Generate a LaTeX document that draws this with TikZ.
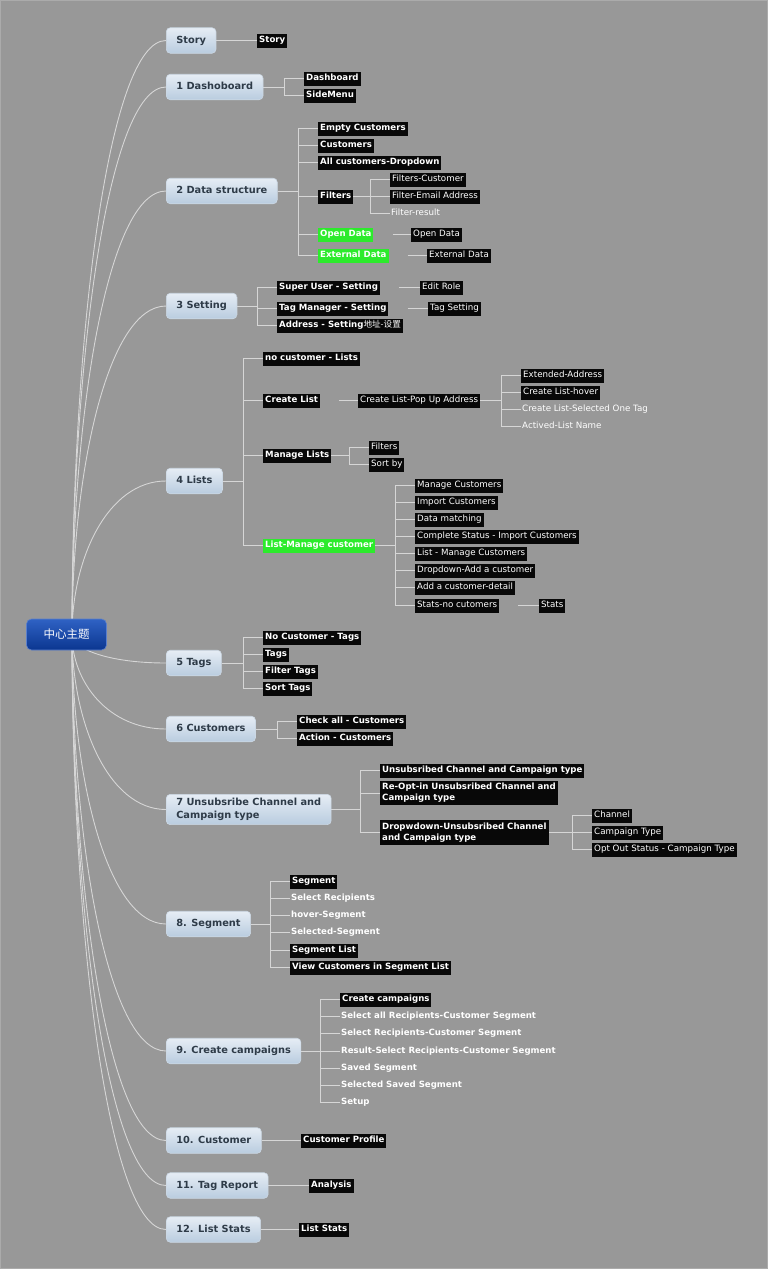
\documentclass[tikz,border=0pt]{standalone}
\usepackage{fontspec}
\setmainfont{DejaVu Sans}
\newfontfamily\cjk{Noto Sans CJK SC}
\usetikzlibrary{calc}
\pgfdeclarelayer{background}
\pgfsetlayers{background,main}
\definecolor{bgc}{HTML}{989898}
\definecolor{bordc}{HTML}{ABABAB}
\definecolor{lcol}{HTML}{D6D6D6}
\definecolor{mtop}{HTML}{E6EDF5}
\definecolor{mbot}{HTML}{B9CCDF}
\definecolor{mborder}{HTML}{CCD8E4}
\definecolor{mtext}{HTML}{2E3B48}
\definecolor{rtop}{HTML}{2F62C4}
\definecolor{rbot}{HTML}{0B3690}
\definecolor{rborder}{HTML}{5A7FCC}
\definecolor{sgreen}{HTML}{2CEB2C}
\definecolor{boxc}{HTML}{080808}
\newcommand\busto[2]{\draw[conn] (#1.east) -| ([xshift=-20pt]#2.west) -- (#2.west);}
\newcommand\gapto[2]{\draw[conn] ([xshift=19pt]#1.east) -- (#2.west);}
\newcommand\directto[2]{\draw[conn] (#1.east) -- (#1.east -| #2.west);}
\begin{document}
\begin{tikzpicture}[x=1pt,y=-1pt,
  mainbase/.style={rounded corners=4pt, top color=mtop, bottom color=mbot, draw=mborder, line width=0.6pt,
    font=\fontsize{9.8}{12.8}\selectfont\bfseries, text=mtext, inner xsep=10pt, inner ysep=4pt, minimum height=25.5pt, anchor=west, align=left},
  mainnode/.style={mainbase, text height=7.2pt, text depth=2pt},
  rootnode/.style={rounded corners=5pt, top color=rtop, bottom color=rbot, draw=rborder, line width=0.6pt, text=white,
    font=\cjk\fontsize{11.5}{13}\selectfont, minimum width=80pt, minimum height=31pt},
  boxbase/.style={fill=boxc, text=white, font=\fontsize{8.7}{10}\selectfont, inner xsep=2pt, inner ysep=2.8pt, anchor=west, align=left},
  blk/.style={boxbase, text height=6.5pt, text depth=1.9pt},
  blkb/.style={blk, font=\fontsize{8.6}{10}\selectfont\bfseries},
  blkbtwo/.style={boxbase, font=\fontsize{8.6}{10.8}\selectfont\bfseries},
  grn/.style={blkb, fill=sgreen},
  plain/.style={text=white, font=\fontsize{8.7}{10}\selectfont, inner xsep=1pt, inner ysep=2.8pt, text height=6.5pt, text depth=1.9pt, anchor=west},
  plainb/.style={plain, font=\fontsize{8.6}{10}\selectfont\bfseries},
  conn/.style={draw=lcol, line width=0.9pt},
]
% root
\node[rootnode] (root) at (66.5,634.5) {中心主题};
\coordinate (rs) at (72,634.5);
% main topics
\node[mainnode] (m0) at (166,40.5) {Story};
\node[mainnode] (m1) at (166,87) {1 Dashoboard};
\node[mainnode] (m2) at (166,191) {2 Data structure};
\node[mainnode] (m3) at (166,306) {3 Setting};
\node[mainnode] (m4) at (166,481) {4 Lists};
\node[mainnode] (m5) at (166,663) {5 Tags};
\node[mainnode] (m6) at (166,729) {6 Customers};
\node[mainbase] (m7) at (166,809.5) {7 Unsubsribe Channel and\\Campaign type};
\node[mainnode] (m8) at (166,924) {8. Segment};
\node[mainnode] (m9) at (166,1051) {9. Create campaigns};
\node[mainnode] (m10) at (166,1140.5) {10. Customer};
\node[mainnode] (m11) at (166,1185.5) {11. Tag Report};
\node[mainnode] (m12) at (166,1229.5) {12. List Stats};
% Story
\node[blkb] (s0) at (257,40.5) {Story};
% 1
\node[blkb] (d1) at (304,78.5) {Dashboard};
\node[blkb] (d2) at (304,95.5) {SideMenu};
% 2
\node[blkb] (a1) at (318,128.5) {Empty Customers};
\node[blkb] (a2) at (318,145.5) {Customers};
\node[blkb] (a3) at (318,162.5) {All customers-Dropdown};
\node[blkb] (a4) at (318,196.5) {Filters};
\node[grn] (a5) at (318,234.5) {Open Data};
\node[grn] (a6) at (318,255.5) {External Data};
\node[blk] (a41) at (390,179.5) {Filters-Customer};
\node[blk] (a42) at (390,196.5) {Filter-Email Address};
\node[plain] (a43) at (390,213.5) {Filter-result};
\node[blk] (a51) at (411,234.5) {Open Data};
\node[blk] (a61) at (427,255.5) {External Data};
% 3
\node[blkb] (b1) at (277,287.5) {Super User - Setting};
\node[blkb] (b2) at (277,308.5) {Tag Manager - Setting};
\node[blkb] (b3) at (277,325.5) {Address - Setting{\cjk\mdseries 地址-设置}};
\node[blk] (b11) at (420,287.5) {Edit Role};
\node[blk] (b21) at (428,308.5) {Tag Setting};
% 4
\node[blkb] (c1) at (263,358.5) {no customer - Lists};
\node[blkb] (c2) at (263,400.5) {Create List};
\node[blkb] (c3) at (263,455.5) {Manage Lists};
\node[grn] (c4) at (263,545.5) {List-Manage customer};
\node[blk] (c21) at (358,400.5) {Create List-Pop Up Address};
\node[blk] (c211) at (521,375.5) {Extended-Address};
\node[blk] (c212) at (521,392.5) {Create List-hover};
\node[plain] (c213) at (521,409.5) {Create List-Selected One Tag};
\node[plain] (c214) at (521,426.5) {Actived-List Name};
\node[blk] (c31) at (369,447.5) {Filters};
\node[blk] (c32) at (369,464.5) {Sort by};
\node[blk] (c41) at (415,485.5) {Manage Customers};
\node[blk] (c42) at (415,502.5) {Import Customers};
\node[blk] (c43) at (415,519.5) {Data matching};
\node[blk] (c44) at (415,536.5) {Complete Status - Import Customers};
\node[blk] (c45) at (415,553.5) {List - Manage Customers};
\node[blk] (c46) at (415,570.5) {Dropdown-Add a customer};
\node[blk] (c47) at (415,587.5) {Add a customer-detail};
\node[blk] (c48) at (415,605.5) {Stats-no cutomers};
\node[blk] (c481) at (539,605.5) {Stats};
% 5
\node[blkb] (t1) at (263,637.5) {No Customer - Tags};
\node[blkb] (t2) at (263,654.5) {Tags};
\node[blkb] (t3) at (263,671.5) {Filter Tags};
\node[blkb] (t4) at (263,688.5) {Sort Tags};
% 6
\node[blkb] (u1) at (297,721.5) {Check all - Customers};
\node[blkb] (u2) at (297,738.5) {Action - Customers};
% 7
\node[blkb] (v1) at (380,770.5) {Unsubsribed Channel and Campaign type};
\node[blkbtwo] (v2) at (380,793) {Re-Opt-in Unsubsribed Channel and\\Campaign type};
\node[blkbtwo] (v3) at (380,832.5) {Dropwdown-Unsubsribed Channel\\and Campaign type};
\node[blk] (v31) at (592,815.5) {Channel};
\node[blk] (v32) at (592,832.5) {Campaign Type};
\node[blk] (v33) at (592,849.5) {Opt Out Status - Campaign Type};
% 8
\node[blkb] (g1) at (290,881.5) {Segment};
\node[plainb] (g2) at (290,898.5) {Select Recipients};
\node[plainb] (g3) at (290,915.5) {hover-Segment};
\node[plainb] (g4) at (290,932.5) {Selected-Segment};
\node[blkb] (g5) at (290,950.5) {Segment List};
\node[blkb] (g6) at (290,967.5) {View Customers in Segment List};
% 9
\node[blkb] (h1) at (340,999.5) {Create campaigns};
\node[plainb] (h2) at (340,1016.5) {Select all Recipients-Customer Segment};
\node[plainb] (h3) at (340,1033.5) {Select Recipients-Customer Segment};
\node[plainb] (h4) at (340,1051) {Result-Select Recipients-Customer Segment};
\node[plainb] (h5) at (340,1068.5) {Saved Segment};
\node[plainb] (h6) at (340,1085.5) {Selected Saved Segment};
\node[plainb] (h7) at (340,1102.5) {Setup};
% 10-12
\node[blkb] (k1) at (301,1140.5) {Customer Profile};
\node[blkb] (k2) at (309,1185.5) {Analysis};
\node[blkb] (k3) at (299,1229.5) {List Stats};

\begin{pgfonlayer}{background}
\fill[bgc] (0,0) rectangle (768,1269);
\draw[bordc, line width=1pt] (0.5,0.5) rectangle (767.5,1268.5);
\foreach \n/\ty in {m0/40.5, m1/87, m2/191, m3/306, m4/481, m5/663, m6/729, m7/809.5, m8/924, m9/1051, m10/1140.5, m11/1185.5, m12/1229.5}
  \draw[conn] (rs) .. controls (72,{(634.5+\ty)/2}) and (108,\ty) .. (\n.west);
\directto{m0}{s0}
\busto{m1}{d1}\busto{m1}{d2}
\busto{m2}{a1}\busto{m2}{a2}\busto{m2}{a3}\busto{m2}{a4}\busto{m2}{a5}\busto{m2}{a6}
\busto{a4}{a41}\busto{a4}{a42}\busto{a4}{a43}
\gapto{a5}{a51}\gapto{a6}{a61}
\busto{m3}{b1}\busto{m3}{b2}\busto{m3}{b3}
\gapto{b1}{b11}\gapto{b2}{b21}
\busto{m4}{c1}\busto{m4}{c2}\busto{m4}{c3}\busto{m4}{c4}
\gapto{c2}{c21}
\busto{c21}{c211}\busto{c21}{c212}\busto{c21}{c213}\busto{c21}{c214}
\busto{c3}{c31}\busto{c3}{c32}
\busto{c4}{c41}\busto{c4}{c42}\busto{c4}{c43}\busto{c4}{c44}\busto{c4}{c45}\busto{c4}{c46}\busto{c4}{c47}\busto{c4}{c48}
\gapto{c48}{c481}
\busto{m5}{t1}\busto{m5}{t2}\busto{m5}{t3}\busto{m5}{t4}
\busto{m6}{u1}\busto{m6}{u2}
\busto{m7}{v1}\busto{m7}{v2}\busto{m7}{v3}
\busto{v3}{v31}\busto{v3}{v32}\busto{v3}{v33}
\busto{m8}{g1}\busto{m8}{g2}\busto{m8}{g3}\busto{m8}{g4}\busto{m8}{g5}\busto{m8}{g6}
\busto{m9}{h1}\busto{m9}{h2}\busto{m9}{h3}\busto{m9}{h4}\busto{m9}{h5}\busto{m9}{h6}\busto{m9}{h7}
\directto{m10}{k1}\directto{m11}{k2}\directto{m12}{k3}
\end{pgfonlayer}
\end{tikzpicture}
\end{document}
